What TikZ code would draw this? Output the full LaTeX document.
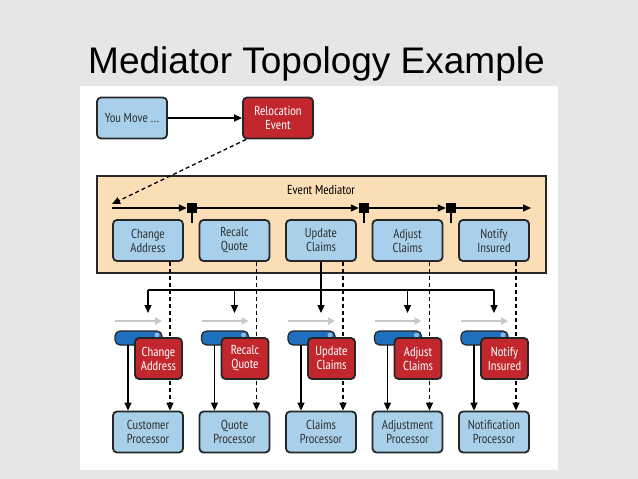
\documentclass[tikz,border=0pt]{standalone}
\usepackage{fontspec}
\setmainfont{PT Sans Narrow}[BoldFont={PT Sans Narrow Bold}]
\newfontfamily\titlefont{Liberation Sans}
\usetikzlibrary{arrows.meta}
\definecolor{lblue}{HTML}{A9D0EA}
\definecolor{dred}{HTML}{C1272D}
\definecolor{orng}{HTML}{FBDDB6}
\definecolor{pblue}{HTML}{1F6FBF}
\definecolor{bg}{HTML}{E6E6E6}
\begin{document}
\begin{tikzpicture}[x=1pt,y=-1pt,
  box/.style={draw=black!85,line width=1.8pt,rounded corners=4pt,minimum width=70pt,minimum height=41pt,align=center,font=\fontsize{13}{14}\selectfont,inner sep=1pt},
  bb/.style={box,fill=lblue,text=black!80},
  rb/.style={box,fill=dred,text=white},
  sr/.style={rb,minimum width=47pt},
  arr/.style={line width=1.3pt,-{Triangle[length=8pt,width=7pt]}},
  darr/.style={arr,dash pattern=on 4pt off 3pt},
  sq/.style={fill=black,minimum size=10pt,inner sep=0pt}]
\fill[bg] (0,0) rectangle (638,479);
\fill[white] (80,86) rectangle (558,470);
\node[anchor=base west,font=\titlefont\fontsize{37}{40}\selectfont,inner sep=0pt] (title) at (88,73) {Mediator Topology Example};
\node[bb] (you) at (132,118) {You Move \dots};
\node[rb] (rel) at (278,118) {Relocation\\Event};
\draw[arr] (you) -- (rel);
\node[draw=black!85,line width=1.5pt,fill=orng,minimum width=449pt,minimum height=97pt,inner sep=0pt] (med) at (321.5,224.5) {};
\node[font=\fontsize{13}{14}\selectfont] (medl) at (321,190) {Event Mediator};
\coordinate (dstart) at (112,204);
\draw[darr] (rel.south west) ++(4,0) -- (dstart);
\node[sq] (s1) at (192,208) {};
\node[sq] (s2) at (364,208) {};
\node[sq] (s3) at (451,208) {};
\coordinate (l0) at (112,208);
\coordinate (l4) at (531,208);
\draw[arr] (l0) -- (s1.west);
\draw[arr] (s1.east) -- (s2.west);
\draw[arr] (s2.east) -- (s3.west);
\draw[arr] (s3.east) -- (l4);
\foreach \s in {s1,s2,s3} \draw[line width=1.3pt] (\s.south) -- ++(0,10);
\coordinate (hl) at (148,290);
\coordinate (hr) at (494,290);
\foreach \i/\x/\ta/\tb/\ra/\rb/\pa/\pb in {1/148/Change/Address/Change/Address/Customer/Processor,2/234.5/Recalc/Quote/Recalc/Quote/Quote/Processor,3/321/Update/Claims/Update/Claims/Claims/Processor,4/407.5/Adjust/Claims/Adjust/Claims/Adjustment/Processor,5/494/Notify/Insured/Notify/Insured/Notification/Processor}{
  \node[bb] (t\i) at (\x,240.5) {\ta\\\tb};
  \node[bb] (p\i) at (\x,432) {\pa\\\pb};
  \coordinate (d\i) at (\x+22,290);
  \coordinate (a\i) at (\x,290);
  \draw[arr] (a\i) -- (\x,313);
  \draw[darr] (t\i.south -| d\i) -- (p\i.north -| d\i);
  \draw[line width=2pt,black!22,-{Triangle[length=7pt,width=7pt]}] (\x-33,321) -- (\x+14,321);
  \node[draw=black!85,fill=pblue,rounded corners=5pt,minimum width=47pt,minimum height=14pt,inner sep=0pt,line width=1.2pt] (ch\i) at (\x-9.5,338) {};
  \fill[pblue!50!white] (\x+9,335) circle (2.5pt);
  \draw[arr] (\x-20,345) -- (p\i.north -| {\x-20,0});
  \node[sr] (r\i) at (\x+10.5,358.5) {\ra\\\rb};
}
\draw[line width=1.3pt] (t3.south) -- (a3);
\draw[line width=1.3pt] (hl) -- (hr);
\end{tikzpicture}
\end{document}
